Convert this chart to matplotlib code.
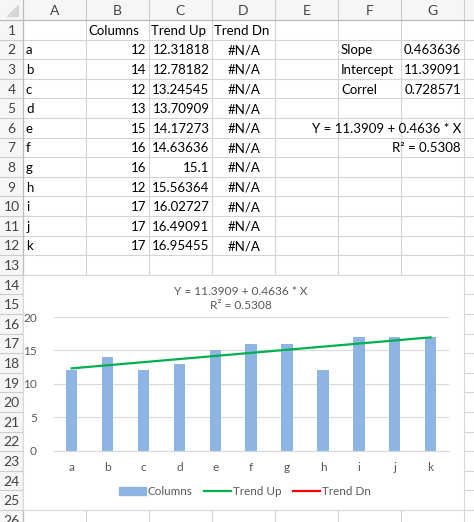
import numpy as np
import matplotlib
matplotlib.use("Agg")
import matplotlib.pyplot as plt
from matplotlib.patches import Rectangle, Polygon
from matplotlib.lines import Line2D

# ---------------- data ----------------
categories = ["a", "b", "c", "d", "e", "f", "g", "h", "i", "j", "k"]
columns_vals = [12, 14, 12, 13, 15, 16, 16, 12, 17, 17, 17]
trend_up = [12.31818, 12.78182, 13.24545, 13.70909, 14.17273, 14.63636,
            15.1, 15.56364, 16.02727, 16.49091, 16.95455]
trend_dn = [np.nan] * 11
header_labels = ["Columns", "Trend Up", "Trend Dn"]
stat_names = ["Slope", "Intercept", "Correl"]
stat_values = ["0.463636", "11.39091", "0.728571"]
eq_text = "Y = 11.3909 + 0.4636 * X"
r2_text = "R² = 0.5308"
col_letters = ["A", "B", "C", "D", "E", "F", "G"]
y_ticks = [0, 5, 10, 15, 20]

# ---------------- layout ----------------
W, H = 474, 522
fig = plt.figure(figsize=(W / 100, H / 100), dpi=100)
bg = fig.add_axes([0, 0, 1, 1])
bg.set_xlim(0, W)
bg.set_ylim(H, 0)
bg.axis("off")

FONT = "Lato"
cell_fs = 9.5
hdr_fs = 10.0
grid_c = "#d4d4d4"
hdr_bg = "#f6f6f6"
hdr_line = "#cccccc"
hdr_txt = "#444444"

col_edges = [23 + 63 * i for i in range(8)] + [W + 40]
hdr_h = 20
row_h = 19.6
row_edges = [hdr_h + row_h * i for i in range(27)]

# headers background
bg.add_patch(Rectangle((0, 0), W, hdr_h, color=hdr_bg, zorder=1))
bg.add_patch(Rectangle((0, 0), col_edges[0], H, color=hdr_bg, zorder=1))

# gridlines
for x in col_edges[1:]:
    bg.plot([x, x], [hdr_h, H], color=grid_c, lw=0.8, zorder=2)
for y in row_edges[1:]:
    bg.plot([col_edges[0], W], [y, y], color=grid_c, lw=0.8, zorder=2)
# header separators
for x in col_edges:
    bg.plot([x, x], [0, hdr_h], color=hdr_line, lw=0.8, zorder=3)
for y in row_edges:
    bg.plot([0, col_edges[0]], [y, y], color=hdr_line, lw=0.8, zorder=3)
bg.plot([0, W], [hdr_h, hdr_h], color="#bdbdbd", lw=0.9, zorder=3)
bg.plot([col_edges[0], col_edges[0]], [0, H], color="#bdbdbd", lw=0.9, zorder=3)
# corner triangle
bg.add_patch(Polygon([[18.5, 4.5], [18.5, 16], [7, 16]], closed=True,
                     color="#d6d6d6", zorder=3))

# column letters
for i, letter in enumerate(col_letters):
    cx = (col_edges[i] + col_edges[i + 1]) / 2
    bg.text(cx, hdr_h / 2 + 1, letter, ha="center", va="center",
            fontsize=hdr_fs, color=hdr_txt, family=FONT, zorder=4)
# row numbers
for r in range(26):
    cy = (row_edges[r] + row_edges[r + 1]) / 2 + 1
    bg.text(11.5, cy, str(r + 1), ha="center", va="center",
            fontsize=hdr_fs, color=hdr_txt, family=FONT, zorder=4)


def cell_y(r):
    return (row_edges[r - 1] + row_edges[r]) / 2 + 1


def txt(x, r, s, ha="left"):
    bg.text(x, cell_y(r), s, ha=ha, va="center", fontsize=cell_fs,
            color="black", family=FONT, zorder=4)


# header row
for j, lab in enumerate(header_labels):
    txt(col_edges[j + 1] + 2.5, 1, lab)

for i, cat in enumerate(categories):
    r = i + 2
    txt(col_edges[0] + 3, r, cat)
    txt(col_edges[2] - 2.5, r, f"{columns_vals[i]:g}", ha="right")
    txt(col_edges[3] - 2.5, r, f"{trend_up[i]:.7g}", ha="right")
    txt((col_edges[3] + col_edges[4]) / 2 + 0.5, r, "#N/A", ha="center")

for k, (nm, val) in enumerate(zip(stat_names, stat_values)):
    txt(col_edges[5] + 3, k + 2, nm)
    txt(col_edges[7] - 3, k + 2, val, ha="right")
txt(col_edges[7] - 3, 6, eq_text, ha="right")
txt(col_edges[7] - 3, 7, r2_text, ha="right")

# ---------------- chart area ----------------
cx0, cx1 = col_edges[0], col_edges[7]
cy0, cy1 = row_edges[13], row_edges[25]
bg.add_patch(Rectangle((cx0, cy0), cx1 - cx0, cy1 - cy0, facecolor="white",
                       edgecolor="#d9d9d9", lw=0.8, zorder=5))

pl, pr, pt, pb = 53.7, 448.6, 317.0, 450.7
ax = fig.add_axes([pl / W, 1 - pb / H, (pr - pl) / W, (pb - pt) / H])
ax.set_zorder(6)
ax.patch.set_alpha(0)
x = np.arange(len(categories))
ax.bar(x, columns_vals, width=0.32, color="#8DB4E2", zorder=2, label="Columns")
ax.plot(x, trend_up, color="#00B050", lw=1.6, zorder=3, label="Trend Up")
ax.plot(x, trend_dn, color="#FF0000", lw=1.6, zorder=3, label="Trend Dn")
ax.set_xlim(-0.5, len(categories) - 0.5)
ax.set_ylim(0, 20)
ax.set_yticks(y_ticks)
ax.set_xticks(x)
ax.set_xticklabels(categories)
ax.grid(axis="y", color="#d9d9d9", lw=0.8, zorder=0)
for s in ["top", "right", "left"]:
    ax.spines[s].set_visible(False)
ax.spines["bottom"].set_color("#d9d9d9")
ax.tick_params(axis="both", length=0, colors="#595959", labelsize=8.6)
ax.tick_params(axis="y", pad=12)
ax.tick_params(axis="x", pad=8)
for lab in ax.get_xticklabels() + ax.get_yticklabels():
    lab.set_family(FONT)

fig.text(240.7 / W, 1 - 291.7 / H, eq_text, ha="center", va="center",
         fontsize=8.6, color="#595959", family=FONT, zorder=7)
fig.text(240.7 / W, 1 - 305.7 / H, r2_text, ha="center", va="center",
         fontsize=8.6, color="#595959", family=FONT, zorder=7)

handles = [Rectangle((0, 0), 1, 1, color="#8DB4E2"),
           Line2D([], [], color="#00B050", lw=1.6),
           Line2D([], [], color="#FF0000", lw=1.6)]
leg = fig.legend(handles, header_labels, loc="center",
                 bbox_to_anchor=(245 / W, 1 - 491.7 / H), ncol=3,
                 frameon=False, prop={"family": FONT, "size": 8.4},
                 handlelength=2.3, handleheight=0.6, handletextpad=0.15,
                 columnspacing=1.0, borderpad=0.2)
leg.set_zorder(8)
for t in leg.get_texts():
    t.set_color("#595959")

fig.savefig("out.png", dpi=100)
